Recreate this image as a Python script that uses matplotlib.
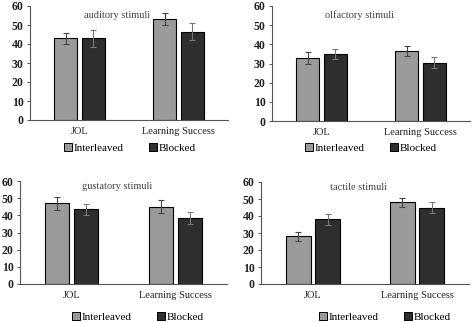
import numpy as np
import matplotlib
matplotlib.use("Agg")
import matplotlib.pyplot as plt
from matplotlib.lines import Line2D

plt.rcParams['font.family'] = ['Liberation Serif', 'DejaVu Serif']

categories = ["JOL", "Learning Success"]
series = ["Interleaved", "Blocked"]
titles = ["auditory stimuli", "olfactory stimuli", "gustatory stimuli", "tactile stimuli"]

auditory_int = [43, 53]
auditory_blk = [43, 46.5]
auditory_int_err = [3, 3.2]
auditory_blk_err = [4.5, 4.5]

olfactory_int = [33, 36.5]
olfactory_blk = [35, 30.5]
olfactory_int_err = [3, 2.7]
olfactory_blk_err = [2.7, 3]

gustatory_int = [47, 45]
gustatory_blk = [43.5, 38.5]
gustatory_int_err = [3.7, 3.8]
gustatory_blk_err = [3.3, 3.5]

tactile_int = [28, 48]
tactile_blk = [38, 45]
tactile_int_err = [2.7, 2.5]
tactile_blk_err = [3.3, 3.3]

yticks = [0, 10, 20, 30, 40, 50, 60]

panels = [
    (auditory_int, auditory_blk, auditory_int_err, auditory_blk_err),
    (olfactory_int, olfactory_blk, olfactory_int_err, olfactory_blk_err),
    (gustatory_int, gustatory_blk, gustatory_int_err, gustatory_blk_err),
    (tactile_int, tactile_blk, tactile_int_err, tactile_blk_err),
]

W, H = 474, 322
# pixel boxes: left, right, top, bottom
boxes = [(30, 228, 6, 120), (272, 470, 6, 121), (20, 227, 181, 284), (261, 469, 182, 284)]
title_pos = [(0.44, 0.92), (0.44, 0.92), (0.47, 0.95), (0.47, 0.95)]
legend_pos = [(129, 148), (370, 148), (137, 317), (384, 317)]

col_int = "#9a9a9a"
col_blk = "#2e2e2e"

fig = plt.figure(figsize=(W / 100, H / 100), dpi=100)
fig.patch.set_facecolor("white")

x = np.arange(len(categories))
bw = 0.235
off = 0.14

for i, (vi, vb, ei, eb) in enumerate(panels):
    l, r, t, b = boxes[i]
    ax = fig.add_axes([l / W, 1 - b / H, (r - l) / W, (b - t) / H])
    ax.bar(x - off, vi, bw, color=col_int, edgecolor="black", linewidth=0.8,
           yerr=ei, error_kw=dict(ecolor="#444444", elinewidth=0.8, capsize=2, capthick=0.8))
    ax.bar(x + off, vb, bw, color=col_blk, edgecolor="black", linewidth=0.8,
           yerr=eb, error_kw=dict(ecolor="#777777", elinewidth=0.8, capsize=2, capthick=0.8))
    ax.set_xlim(-0.5, 1.5)
    ax.set_ylim(0, 60)
    ax.set_yticks(yticks)
    ax.set_yticklabels([str(v) for v in yticks], fontsize=8.5, fontweight="bold", color="#222222")
    ax.set_xticks(x)
    ax.set_xticklabels(categories, fontsize=7.5, color="#222222")
    ax.tick_params(axis="x", length=0, pad=5)
    ax.tick_params(axis="y", length=2.5, width=0.7, pad=2, color="#555555")
    for s in ["top", "right"]:
        ax.spines[s].set_visible(False)
    ax.spines["left"].set_color("#555555")
    ax.spines["bottom"].set_color("#555555")
    ax.spines["left"].set_linewidth(0.8)
    ax.spines["bottom"].set_linewidth(0.8)
    ax.text(title_pos[i][0], title_pos[i][1], titles[i], transform=ax.transAxes,
            ha="center", va="center", fontsize=7.5, color="#444444")

    handles = [Line2D([], [], marker="s", linestyle="none", markersize=6,
                      markerfacecolor=c, markeredgecolor="black", markeredgewidth=0.7)
               for c in (col_int, col_blk)]
    lx, ly = legend_pos[i]
    fig.legend(handles, series, loc="center", bbox_to_anchor=(lx / W, 1 - ly / H),
               ncol=2, frameon=False, fontsize=8, handletextpad=0.0,
               columnspacing=2.2, handlelength=1.0, borderpad=0)

fig.savefig("out.png", dpi=100, facecolor="white")
